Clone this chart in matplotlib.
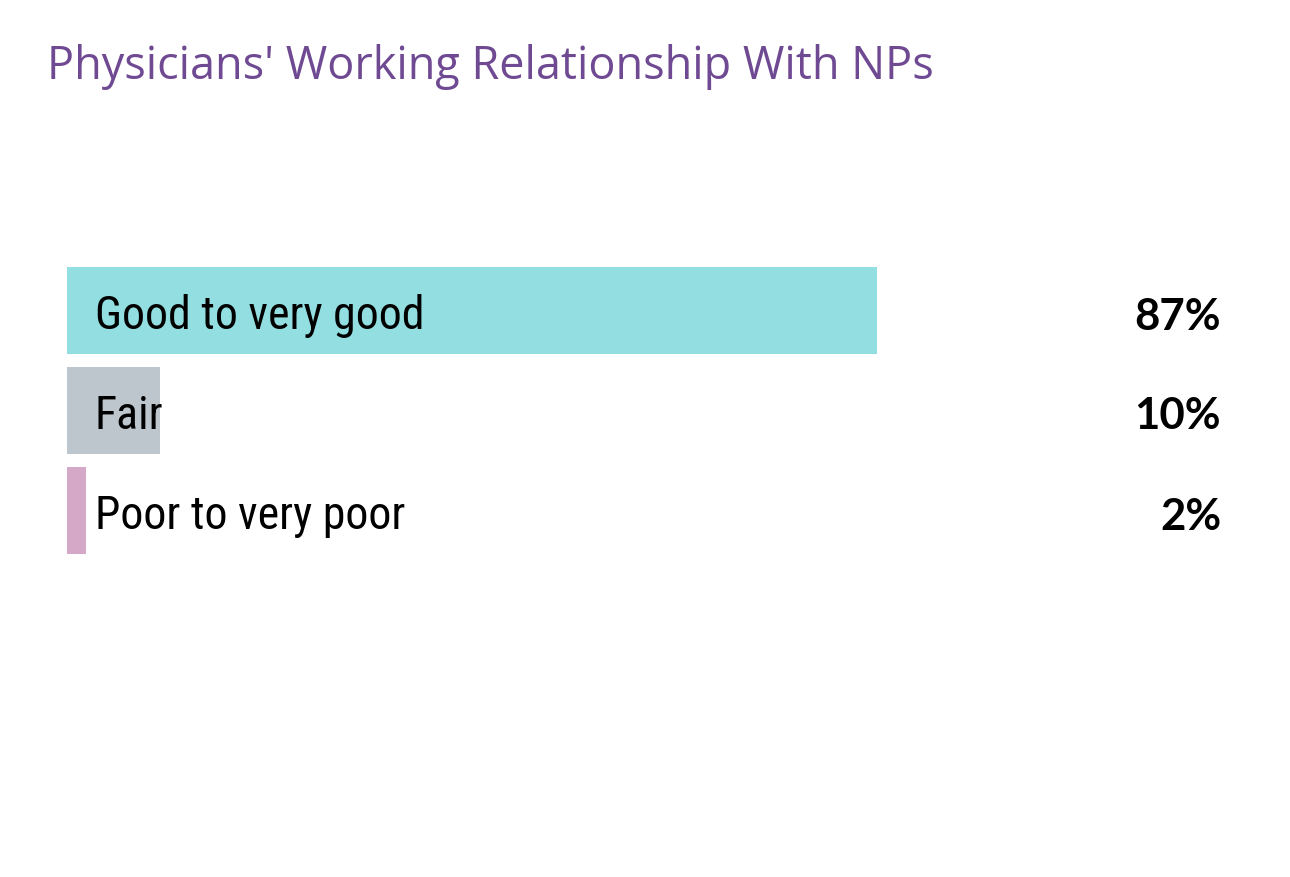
import matplotlib
matplotlib.use("Agg")
import matplotlib.pyplot as plt

categories = ["Good to very good", "Fair", "Poor to very poor"]
values = [87, 10, 2]
value_labels = ["87%", "10%", "2%"]
colors = ["#92dee0", "#bcc6cc", "#d5a8c8"]
title = "Physicians' Working Relationship With NPs"

W, H = 1290, 878
fig = plt.figure(figsize=(W / 100, H / 100), dpi=100)

# axes in pixel geometry
left_px, right_px = 67, 998
top_px, bot_px = 261.5, 561.5
ax = fig.add_axes([left_px / W, (H - bot_px) / H, (right_px - left_px) / W, (bot_px - top_px) / H])
ypos = list(range(len(categories)))
ax.barh(ypos, values, height=0.87, color=colors)
ax.set_xlim(0, 100)
ax.set_ylim(len(categories) - 0.5, -0.5)
ax.axis("off")

row_px = 100.0
px_per_unit = (right_px - left_px) / 100.0
for y, cat in zip(ypos, categories):
    ax.text(3.0, y + 18 / row_px, cat, ha="left", va="baseline", fontsize=33,
            family="Roboto Condensed", color="black")
for y, lab in zip(ypos, value_labels):
    ax.text((1221 - left_px) / px_per_unit, y + 18 / row_px, lab, ha="right", va="baseline",
            fontsize=31.5, family="Lato", fontweight="bold", color="black", clip_on=False)

fig.text(47 / W, 1 - 79 / H, title, ha="left", va="baseline", fontsize=32.4,
         family="Open Sans", color="#6f4a93")

fig.savefig("out.png", dpi=100)
